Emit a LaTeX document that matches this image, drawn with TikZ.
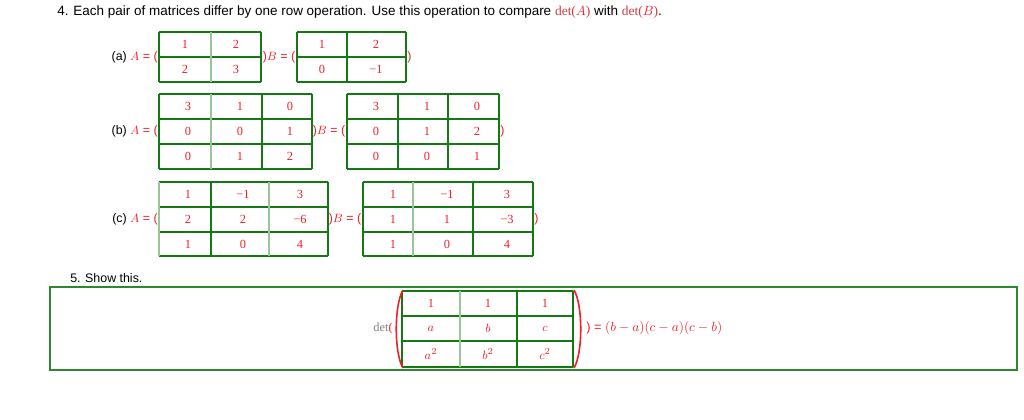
\documentclass[tikz,border=0pt]{standalone}
\usepackage{fontspec}
\setmainfont{Liberation Sans}
\newfontfamily\numf{Liberation Serif}
\definecolor{dg}{RGB}{20,120,20}
\definecolor{lg}{RGB}{150,200,150}
\definecolor{rd}{RGB}{240,30,40}
\begin{document}
\begin{tikzpicture}[x=0.75pt,y=-0.75pt,
  gl/.style={draw=dg,line width=0.8pt},
  lgl/.style={draw=lg,line width=1pt},
  num/.style={text=rd,font=\numf\fontsize{9.3}{11}\selectfont,inner sep=0pt},
  lab/.style={font=\fontsize{9.3}{11}\selectfont,inner sep=0pt},
  rm/.style={text=rd,font=\fontsize{9.3}{11}\selectfont,inner sep=0pt}]
\useasboundingbox (0,0) rectangle (1024,419);
\node[anchor=west,font=\fontsize{10.1}{12}\selectfont,inner sep=0pt] (t4) at (57,12) {4. Each pair of matrices differ by one row operation. Use this operation to compare \textcolor{rd!70!gray}{\numf det(}\textcolor{rd}{$A$}\textcolor{rd!70!gray}{\numf )} with \textcolor{rd!70!gray}{\numf det(}\textcolor{rd}{$B$}\textcolor{rd!70!gray}{\numf )}.};
% (a)
\foreach \y in {32,57,82} {\draw[gl] (159,\y)--(261,\y); \draw[gl] (297,\y)--(406,\y);}
\foreach \x in {159,261,297,347,406} \draw[gl] (\x,32)--(\x,82);
\draw[lgl] (211,32)--(211,82);
\foreach \x/\y/\t in {185/44.5/1,236/44.5/2,185/69.5/2,236/69.5/3,322/44.5/1,376/44.5/2,322/69.5/0,376/69.5/−1}
  \node[num] at (\x,\y) {\t};
\node[lab,anchor=east] (la) at (158,57) {(a) \textcolor{rd}{$A$ = (}};
\node[rm] (ma) at (279,57) {)$B$ = (};
\node[rm,anchor=west] (ea) at (407,57) {)};
% (b)
\foreach \y in {94,119,144,169} {\draw[gl] (159,\y)--(312,\y); \draw[gl] (347,\y)--(499,\y);}
\foreach \x in {159,262,312,347,398,448,499} \draw[gl] (\x,94)--(\x,169);
\draw[lgl] (211,94)--(211,169);
\foreach \x/\y/\t in {188/106.5/3,240/106.5/1,290/106.5/0,188/131.5/0,240/131.5/0,290/131.5/1,188/156.5/0,240/156.5/1,290/156.5/2,
  376/106.5/3,427/106.5/1,477/106.5/0,376/131.5/0,427/131.5/1,477/131.5/2,376/156.5/0,427/156.5/0,477/156.5/1}
  \node[num] at (\x,\y) {\t};
\node[lab,anchor=east] (lb) at (158,131.5) {(b) \textcolor{rd}{$A$ = (}};
\node[rm] (mb) at (329,131.5) {)$B$ = (};
\node[rm,anchor=west] (eb) at (500,131.5) {)};
% (c)
\foreach \y in {182,207,232,256} {\draw[gl] (159,\y)--(328,\y); \draw[gl] (363,\y)--(533,\y);}
\foreach \x in {211,328,363,473,533} \draw[gl] (\x,182)--(\x,256);
\foreach \x in {159,269,413} \draw[lgl] (\x,182)--(\x,256);
\foreach \x/\y/\t in {188/194.5/1,243/194.5/−1,300/194.5/3,188/219.5/2,243/219.5/2,300/219.5/−6,188/244/1,243/244/0,300/244/4,
  393/194.5/1,447/194.5/−1,507/194.5/3,393/219.5/1,447/219.5/1,507/219.5/−3,393/244/1,447/244/0,507/244/4}
  \node[num] at (\x,\y) {\t};
\node[lab,anchor=east] (lc) at (158,219.5) {(c) \textcolor{rd}{$A$ = (}};
\node[rm] (mc) at (345,219.5) {)$B$ = (};
\node[rm,anchor=west] (ec) at (534,219.5) {)};
% 5
\node[lab,anchor=west] (t5) at (70,278) {5. Show this.};
\draw[draw=dg!80!lg,line width=0.8pt] (50,287) rectangle (1017,370);
\foreach \y in {291,316,341,367} \draw[gl] (402,\y)--(573,\y);
\foreach \x in {402,517,573} \draw[gl] (\x,291)--(\x,367);
\draw[lgl] (460,291)--(460,367);
\foreach \x/\y/\t in {431/303.5/1,488/303.5/1,545/303.5/1}
  \node[num] at (\x,\y) {\t};
\foreach \x/\y/\t in {431/328.5/a,488/328.5/b,545/328.5/c,431/354/a^2,488/354/b^2,545/354/c^2}
  \node[rm] at (\x,\y) {$\t$};
\draw[rd,line width=1.2pt] (403,290) .. controls (394,305) and (394,353) .. (403,368);
\draw[rd,line width=1.2pt] (574,290) .. controls (583,305) and (583,353) .. (574,368);
\node[lab,anchor=east] (dt) at (393,328.5) {\numf\textcolor{gray}{det}\textcolor{rd}{(}};
\node[rm,anchor=west,font=\fontsize{9.6}{12}\selectfont] (rh) at (586,328.5) {) = $(b-a)(c-a)(c-b)$};
\end{tikzpicture}
\end{document}
